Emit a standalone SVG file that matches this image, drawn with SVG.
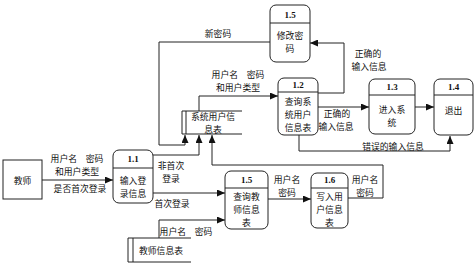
<svg xmlns="http://www.w3.org/2000/svg" width="474" height="272" viewBox="0 0 474 272">
<style>
text{font-family:"Noto Sans CJK SC","Liberation Sans",sans-serif;font-size:8.8px;fill:#111;text-anchor:middle}
.n{font-family:"Liberation Serif",serif;font-weight:bold;font-size:9px}
.b{fill:#fff;stroke:#222;stroke-width:1}
.l{fill:none;stroke:#222;stroke-width:1}
.c{fill:none;stroke:#222;stroke-width:1;marker-end:url(#a)}
</style>
<defs>
<marker id="a" viewBox="0 0 8 7" refX="8" refY="3.5" markerWidth="8" markerHeight="7" markerUnits="userSpaceOnUse" orient="auto">
<path d="M0,0 L8,3.5 L0,7 Z" fill="#111"/>
</marker>
</defs>
<rect width="474" height="272" fill="#fff"/>
<g id="connectors">
<path class="c" d="M42,180 H113"/>
<path class="c" d="M153,155 H199 V135"/>
<path class="c" d="M270,42 H159 V145 H185 V135"/>
<path class="c" d="M348,198 H383 V165 H212 V135"/>
<path class="c" d="M199,111 V96 H278"/>
<path class="c" d="M318,93 H344 V43 H310"/>
<path class="c" d="M318,107 H369"/>
<path class="c" d="M415,107 H434"/>
<path class="c" d="M299,135 V151 H450 V136"/>
<path class="c" d="M153,193 H225"/>
<path class="c" d="M159,238 V220 H225"/>
<path class="c" d="M268,199 H311"/>
<text x="218" y="37">新密码</text>
<text x="238" y="78">用户名　密码<tspan x="238" dy="13">和用户类型</tspan></text>
<text x="368" y="57">正确的<tspan x="369" dy="13">输入信息</tspan></text>
<text x="337" y="117">正确的<tspan x="336" dy="13">输入信息</tspan></text>
<text x="393" y="149.5">错误的输入信息</text>
<text x="77" y="162">用户名　密码<tspan x="77" dy="13">和用户类型</tspan></text>
<text x="80" y="192">是否首次登录</text>
<text x="171" y="169">非首次<tspan x="171" dy="13">登录</tspan></text>
<text x="172" y="207">首次登录</text>
<text x="186" y="235">用户名　密码</text>
<text x="287" y="183">用户名<tspan x="287" dy="13">密码</tspan></text>
<text x="365" y="183">用户名<tspan x="365" dy="13">密码</tspan></text>
</g>
<g id="teacher">
<rect class="b" x="3" y="160" width="39" height="39"/>
<text x="22.5" y="184">教师</text>
</g>
<g id="p11">
<rect class="b" x="113" y="150" width="40" height="53" rx="6"/>
<path class="l" d="M113,168 H153"/>
<text class="n" x="133" y="162">1.1</text>
<text x="133" y="184">输入登<tspan x="133" dy="13">录信息</tspan></text>
</g>
<g id="p12">
<rect class="b" x="278" y="78" width="40" height="57" rx="6"/>
<path class="l" d="M278,92 H318"/>
<text class="n" x="298" y="88">1.2</text>
<text x="298" y="104.5">查询系<tspan x="298" dy="13">统用户</tspan><tspan x="298" dy="13">信息表</tspan></text>
</g>
<g id="p13">
<rect class="b" x="369" y="79" width="46" height="55" rx="6"/>
<path class="l" d="M369,95 H415"/>
<text class="n" x="392" y="90">1.3</text>
<text x="392" y="113">进入系<tspan x="392" dy="13">统</tspan></text>
</g>
<g id="p14">
<rect class="b" x="434" y="79" width="39" height="56" rx="6"/>
<path class="l" d="M434,95 H473"/>
<text class="n" x="453.5" y="90">1.4</text>
<text x="453.5" y="114">退出</text>
</g>
<g id="p15a">
<rect class="b" x="270" y="5" width="40" height="57" rx="6"/>
<path class="l" d="M270,23 H310"/>
<text class="n" x="290" y="18">1.5</text>
<text x="290" y="39">修改密<tspan x="290" dy="13">码</tspan></text>
</g>
<g id="p15b">
<rect class="b" x="225" y="171" width="43" height="58" rx="6"/>
<path class="l" d="M225,188 H268"/>
<text class="n" x="246.5" y="183">1.5</text>
<text x="246.5" y="199.5">查询教<tspan x="246.5" dy="13">师信息</tspan><tspan x="246.5" dy="13">表</tspan></text>
</g>
<g id="p16">
<rect class="b" x="311" y="173" width="37" height="55" rx="6"/>
<path class="l" d="M311,188 H348"/>
<text class="n" x="329.5" y="183">1.6</text>
<text x="329.5" y="199.5">写入用<tspan x="329.5" dy="13">户信息</tspan><tspan x="329.5" dy="13">表</tspan></text>
</g>
<g id="store_user">
<rect x="182" y="111" width="60" height="23" fill="#fff"/>
<path class="l" d="M242,111 H182 V134 H242 M186,111 V134"/>
<text x="213" y="119.5">系统用户信<tspan x="213" dy="13">息表</tspan></text>
</g>
<g id="store_teacher">
<rect x="128" y="238" width="63" height="24" fill="#fff"/>
<path class="l" d="M191,238 H128 V262 H191 M133,238 V262"/>
<text x="161" y="253.5">教师信息表</text>
</g>
</svg>
